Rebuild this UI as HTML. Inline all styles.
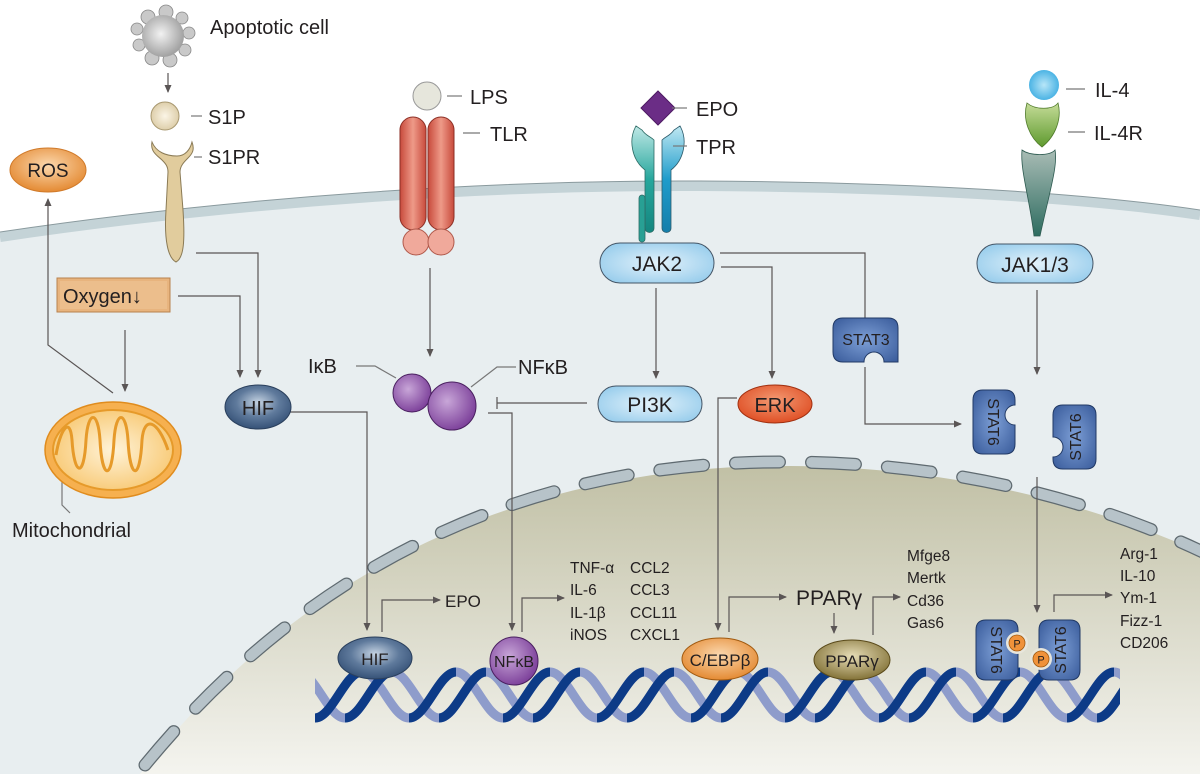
<!DOCTYPE html>
<html><head><meta charset="utf-8"><style>
html,body{margin:0;padding:0;background:#fff}
svg{display:block}
text{font-family:"Liberation Sans",sans-serif;fill:#231f20}
</style></head><body>
<svg width="1200" height="774" viewBox="0 0 1200 774" xmlns="http://www.w3.org/2000/svg">
<defs>
<marker id="ah" markerWidth="8" markerHeight="8" refX="7" refY="4" orient="auto" markerUnits="userSpaceOnUse"><path d="M0,0.5 L8,4 L0,7.5 Z" fill="#5a5555"/></marker>
<linearGradient id="nuc" x1="0" y1="0" x2="0" y2="1"><stop offset="0" stop-color="#c1c0a5"/><stop offset="1" stop-color="#f4f4ef"/></linearGradient>
<radialGradient id="gGray" cx="0.45" cy="0.45" r="0.6"><stop offset="0" stop-color="#f2f2f2"/><stop offset="1" stop-color="#9a9a9a"/></radialGradient>
<radialGradient id="gBeige" cx="0.5" cy="0.5" r="0.6"><stop offset="0" stop-color="#fbf5e6"/><stop offset="1" stop-color="#d8c79f"/></radialGradient>
<radialGradient id="gOr" cx="0.5" cy="0.4" r="0.6"><stop offset="0" stop-color="#fbd8ae"/><stop offset="1" stop-color="#e48a33"/></radialGradient>
<radialGradient id="gHif" cx="0.5" cy="0.4" r="0.65"><stop offset="0" stop-color="#c5d3e2"/><stop offset="0.5" stop-color="#5f7a9c"/><stop offset="1" stop-color="#2e4a70"/></radialGradient>
<radialGradient id="gPur" cx="0.4" cy="0.4" r="0.65"><stop offset="0" stop-color="#c8a6d8"/><stop offset="1" stop-color="#7a3d98"/></radialGradient>
<radialGradient id="gPill" cx="0.5" cy="0.5" r="0.6"><stop offset="0" stop-color="#e3f2fb"/><stop offset="1" stop-color="#98cdec"/></radialGradient>
<radialGradient id="gErk" cx="0.5" cy="0.4" r="0.6"><stop offset="0" stop-color="#f39a73"/><stop offset="1" stop-color="#df4f25"/></radialGradient>
<radialGradient id="gPpar" cx="0.5" cy="0.4" r="0.65"><stop offset="0" stop-color="#e6dcb6"/><stop offset="1" stop-color="#7b6a2e"/></radialGradient>
<radialGradient id="gStat" cx="0.5" cy="0.5" r="0.65"><stop offset="0" stop-color="#7d9fd6"/><stop offset="1" stop-color="#3d5f9e"/></radialGradient>
<linearGradient id="gTlr" x1="0" x2="1"><stop offset="0" stop-color="#c84a3c"/><stop offset="0.5" stop-color="#ee9a88"/><stop offset="1" stop-color="#c84a3c"/></linearGradient>
<radialGradient id="gIl4" cx="0.5" cy="0.5" r="0.6"><stop offset="0" stop-color="#b8e6f8"/><stop offset="1" stop-color="#35a9e0"/></radialGradient>
<linearGradient id="gIl4r" x1="0" y1="0" x2="0" y2="1"><stop offset="0" stop-color="#c5dc98"/><stop offset="1" stop-color="#5e9a2e"/></linearGradient>
<linearGradient id="gStalk" x1="0" y1="0" x2="0" y2="1"><stop offset="0" stop-color="#a9bcb5"/><stop offset="1" stop-color="#2d6c60"/></linearGradient>
<linearGradient id="gTpr" x1="0" y1="0" x2="0" y2="1"><stop offset="0" stop-color="#bfe8e6"/><stop offset="0.5" stop-color="#27a79d"/><stop offset="1" stop-color="#14867f"/></linearGradient>
<linearGradient id="gTpr2" x1="0" y1="0" x2="0" y2="1"><stop offset="0" stop-color="#bfe8f2"/><stop offset="0.5" stop-color="#1f9ccb"/><stop offset="1" stop-color="#157eaa"/></linearGradient>
<radialGradient id="gMito" cx="0.5" cy="0.5" r="0.6"><stop offset="0" stop-color="#fff3d8"/><stop offset="1" stop-color="#f7c56b"/></radialGradient>
<pattern id="dnaPat" patternUnits="userSpaceOnUse" x="315" y="0" width="94" height="774">
 <g fill="none" stroke-width="9">
  <g id="lightA" stroke="#8e9ccb"><path d="M-94,718 C-77,718 -64,672 -47,672 C-30,672 -17,718 0,718 C17,718 30,672 47,672 C64,672 77,718 94,718 C111,718 124,672 141,672 C158,672 171,718 188,718"/></g>
  <g transform="translate(30,0)" stroke="#8e9ccb"><path d="M-94,718 C-77,718 -64,672 -47,672 C-30,672 -17,718 0,718 C17,718 30,672 47,672 C64,672 77,718 94,718 C111,718 124,672 141,672 C158,672 171,718 188,718"/></g>
  <g stroke="#0d3b87"><path d="M-94,718 C-77,718 -64,672 -47,672 M0,718 C17,718 30,672 47,672 M94,718 C111,718 124,672 141,672"/></g>
  <g transform="translate(30,0)" stroke="#0d3b87"><path d="M-94,718 C-77,718 -64,672 -47,672 M0,718 C17,718 30,672 47,672 M94,718 C111,718 124,672 141,672"/></g>
 </g>
</pattern>
</defs>

<!-- cell -->
<path d="M0,232 C250,195 500,180 700,181 C900,182 1080,192 1200,210 L1200,774 L0,774 Z" fill="#e8eef0"/>
<path d="M0,232 C250,195 500,180 700,181 C900,182 1080,192 1200,210" fill="none" stroke="#c4d3d7" stroke-width="10" transform="translate(0,5)"/>
<path d="M0,232 C250,195 500,180 700,181 C900,182 1080,192 1200,210" fill="none" stroke="#8a9a9e" stroke-width="1"/>

<!-- nucleus -->
<path d="M140,774 C320,545 560,464 790,466 C960,467 1100,508 1200,552 L1200,774 Z" fill="url(#nuc)"/>
<path d="M145,765 C330,540 560,460 790,462 C960,463 1100,503 1205,553" fill="none" stroke="#5f6a70" stroke-width="13" stroke-linecap="round" stroke-dasharray="44 32"/>
<path d="M145,765 C330,540 560,460 790,462 C960,463 1100,503 1205,553" fill="none" stroke="#b7c3c9" stroke-width="10.5" stroke-linecap="round" stroke-dasharray="44 32"/>

<!-- DNA -->
<rect x="315" y="664" width="805" height="62" fill="url(#dnaPat)"/>

<!-- top ligands -->
<g>
 <g fill="#c9c9c9" stroke="#888" stroke-width="0.8">
  <circle cx="148" cy="17" r="7"/><circle cx="166" cy="12" r="7"/><circle cx="182" cy="18" r="6"/><circle cx="189" cy="33" r="6"/><circle cx="185" cy="50" r="6"/><circle cx="170" cy="60" r="7"/><circle cx="152" cy="58" r="7"/><circle cx="139" cy="45" r="6"/><circle cx="137" cy="29" r="6"/>
 </g>
 <circle cx="163" cy="36" r="21" fill="url(#gGray)"/>
 <text x="210" y="34" font-size="20">Apoptotic cell</text>
 <line x1="168" y1="73" x2="168" y2="92" stroke="#5a5555" stroke-width="1.2" marker-end="url(#ah)"/>
 <circle cx="165" cy="116" r="14" fill="url(#gBeige)" stroke="#a89870" stroke-width="1"/>
 <line x1="191" y1="116" x2="202" y2="116" stroke="#777" stroke-width="1.2"/>
 <text x="208" y="124" font-size="20">S1P</text>
 <path d="M152,142 C150,152 158,156 162,160 C165,163 168,166 168,172 L166,210 C164,240 168,258 176,262 C184,258 185,240 183,210 L180,172 C180,166 184,162 188,158 C192,154 195,150 192,142 C190,150 185,156 177,156 C166,156 156,152 152,142 Z" fill="#e1cc9d" stroke="#8a7a55" stroke-width="1"/>
 <line x1="194" y1="157" x2="202" y2="157" stroke="#777" stroke-width="1.2"/>
 <text x="208" y="164" font-size="20">S1PR</text>

 <ellipse cx="48" cy="170" rx="38" ry="22" fill="url(#gOr)" stroke="#d07a2a" stroke-width="1"/>
 <text x="48" y="177" font-size="19" text-anchor="middle">ROS</text>

 <circle cx="427" cy="96" r="14" fill="#e6e6dc" stroke="#999" stroke-width="1"/>
 <line x1="447" y1="96" x2="462" y2="96" stroke="#777" stroke-width="1.2"/>
 <text x="470" y="104" font-size="20">LPS</text>
 <rect x="400" y="117" width="26" height="113" rx="13" fill="url(#gTlr)" stroke="#8c2f25" stroke-width="1"/>
 <rect x="428" y="117" width="26" height="113" rx="13" fill="url(#gTlr)" stroke="#8c2f25" stroke-width="1"/>
 <circle cx="416" cy="242" r="13" fill="#f0a99b" stroke="#b0584a" stroke-width="1"/>
 <circle cx="441" cy="242" r="13" fill="#f0a99b" stroke="#b0584a" stroke-width="1"/>
 <line x1="463" y1="133" x2="480" y2="133" stroke="#777" stroke-width="1.2"/>
 <text x="490" y="141" font-size="20">TLR</text>

 <path d="M658,91 L675,108 L658,125 L641,108 Z" fill="#6b2d86" stroke="#4d1a63" stroke-width="1"/>
 <line x1="672" y1="108" x2="687" y2="108" stroke="#777" stroke-width="1.2"/>
 <text x="696" y="116" font-size="20">EPO</text>
 <path d="M636,126 C628,140 632,160 645,170 L645,228 C645,234 654,234 654,228 L654,140 C650,136 646,136 642,130 Z" fill="url(#gTpr)" stroke="#2d6c66" stroke-width="0.8"/>
 <path d="M680,126 C688,140 684,160 671,170 L671,228 C671,234 662,234 662,228 L662,140 C666,136 670,136 674,130 Z" fill="url(#gTpr2)" stroke="#2d5c6c" stroke-width="0.8"/>
 <rect x="639" y="195" width="6" height="47" rx="3" fill="#28a094" stroke="#2d6c66" stroke-width="0.8"/>
 <line x1="673" y1="146" x2="687" y2="146" stroke="#777" stroke-width="1.2"/>
 <text x="696" y="154" font-size="20">TPR</text>

 <circle cx="1044" cy="85" r="15" fill="url(#gIl4)"/>
 <line x1="1066" y1="89" x2="1085" y2="89" stroke="#777" stroke-width="1.2"/>
 <text x="1095" y="97" font-size="20">IL-4</text>
 <path d="M1027,103 C1035,110 1053,110 1058,103 C1062,118 1056,136 1042,147 C1030,138 1022,120 1027,103 Z" fill="url(#gIl4r)" stroke="#4f7a2a" stroke-width="0.8"/>
 <line x1="1068" y1="132" x2="1085" y2="132" stroke="#777" stroke-width="1.2"/>
 <text x="1094" y="140" font-size="20">IL-4R</text>
 <path d="M1022,150 C1030,156 1050,156 1055,150 C1058,165 1050,190 1040,236 C1036,236 1035,236 1034,236 C1030,200 1020,170 1022,150 Z" fill="url(#gStalk)" stroke="#2d5a50" stroke-width="0.8"/>
</g>

<rect x="57" y="278" width="113" height="34" fill="#e8b47e" stroke="#b9824e" stroke-width="1"/>
<rect x="60" y="281" width="107" height="28" fill="#f0c89a" opacity="0.5"/>
<text x="63" y="303" font-size="20">Oxygen↓</text>

<g fill="none" stroke="#5a5555" stroke-width="1.2">
 <polyline points="196,253 258,253 258,377" marker-end="url(#ah)"/>
 <polyline points="178,296 240,296 240,377" marker-end="url(#ah)"/>
 <line x1="125" y1="330" x2="125" y2="391" marker-end="url(#ah)"/>
 <polyline points="113,393 48,345 48,199" marker-end="url(#ah)"/>
 <line x1="430" y1="268" x2="430" y2="356" marker-end="url(#ah)"/>
 <polyline points="265,412 367,412 367,630" marker-end="url(#ah)"/>
 <polyline points="488,413 512,413 512,630" marker-end="url(#ah)"/>
 <polyline points="587,403 497,403"/>
 <line x1="497" y1="397" x2="497" y2="409"/>
 <polyline points="720,253 865,253 865,318"/>
 <polyline points="721,267 772,267 772,378" marker-end="url(#ah)"/>
 <line x1="656" y1="288" x2="656" y2="378" marker-end="url(#ah)"/>
 <line x1="1037" y1="290" x2="1037" y2="374" marker-end="url(#ah)"/>
 <polyline points="865,367 865,424 961,424" marker-end="url(#ah)"/>
 <polyline points="737,398 718,398 718,630" marker-end="url(#ah)"/>
 <line x1="1037" y1="477" x2="1037" y2="612" marker-end="url(#ah)"/>
 <polyline points="382,632 382,600 440,600" marker-end="url(#ah)"/>
 <polyline points="522,632 522,598 564,598" marker-end="url(#ah)"/>
 <polyline points="729,632 729,597 786,597" marker-end="url(#ah)"/>
 <line x1="834" y1="613" x2="834" y2="633" marker-end="url(#ah)"/>
 <polyline points="873,635 873,597 900,597" marker-end="url(#ah)"/>
 <polyline points="1054,612 1054,595 1112,595" marker-end="url(#ah)"/>
 <polyline points="356,366 375,366 396,378" stroke="#777"/>
 <polyline points="471,387 497,367 516,367" stroke="#777"/>
 <polyline points="62,480 62,505 70,513" stroke="#777"/>
</g>

<ellipse cx="113" cy="450" rx="68" ry="48" fill="#f6b04f" stroke="#e08c1e" stroke-width="1.5"/>
<ellipse cx="113" cy="450" rx="60" ry="40" fill="url(#gMito)" stroke="#e69a2a" stroke-width="2"/>
<path d="M56,455 C60,430 70,415 72,440 C74,475 84,480 86,440 C88,410 98,410 100,440 C102,480 112,482 114,440 C116,410 126,410 128,440 C130,480 140,482 142,440 C144,415 158,420 168,450" fill="none" stroke="#e69a2a" stroke-width="3"/>
<text x="12" y="537" font-size="20">Mitochondrial</text>

<ellipse cx="258" cy="407" rx="33" ry="22" fill="url(#gHif)" stroke="#2a3f5c" stroke-width="1"/>
<text x="258" y="415" font-size="20" text-anchor="middle">HIF</text>

<circle cx="412" cy="393" r="19" fill="url(#gPur)" stroke="#4a2060" stroke-width="1"/>
<circle cx="452" cy="406" r="24" fill="url(#gPur)" stroke="#4a2060" stroke-width="1"/>
<text x="308" y="373" font-size="20">IκB</text>
<text x="518" y="374" font-size="20">NFκB</text>

<rect x="600" y="243" width="114" height="40" rx="20" fill="url(#gPill)" stroke="#456" stroke-width="1"/>
<text x="657" y="271" font-size="21" text-anchor="middle">JAK2</text>
<rect x="977" y="244" width="116" height="39" rx="19.5" fill="url(#gPill)" stroke="#456" stroke-width="1"/>
<text x="1035" y="272" font-size="21" text-anchor="middle">JAK1/3</text>
<rect x="598" y="386" width="104" height="36" rx="18" fill="url(#gPill)" stroke="#456" stroke-width="1"/>
<text x="650" y="412" font-size="21" text-anchor="middle">PI3K</text>
<ellipse cx="775" cy="404" rx="37" ry="19" fill="url(#gErk)" stroke="#a03010" stroke-width="1"/>
<text x="775" y="412" font-size="20" text-anchor="middle">ERK</text>

<path d="M843,318 L888,318 Q898,318 898,328 L898,362 L884,362 A10,10 0 0 0 864,362 L843,362 Q833,362 833,352 L833,328 Q833,318 843,318 Z" fill="url(#gStat)" stroke="#223a66" stroke-width="1"/>
<text x="866" y="345" font-size="16" text-anchor="middle">STAT3</text>
<path d="M983,390 L1005,390 Q1015,390 1015,400 L1015,405 A10,10 0 0 0 1015,425 L1015,444 Q1015,454 1005,454 L983,454 Q973,454 973,444 L973,400 Q973,390 983,390 Z" fill="url(#gStat)" stroke="#223a66" stroke-width="1"/>
<text transform="translate(988,422) rotate(90)" font-size="16" text-anchor="middle">STAT6</text>
<path d="M1063,405 L1086,405 Q1096,405 1096,415 L1096,459 Q1096,469 1086,469 L1063,469 Q1053,469 1053,459 L1053,457 A10,10 0 0 0 1053,437 L1053,415 Q1053,405 1063,405 Z" fill="url(#gStat)" stroke="#223a66" stroke-width="1"/>
<text transform="translate(1081,437) rotate(-90)" font-size="16" text-anchor="middle">STAT6</text>

<text x="445" y="607" font-size="17">EPO</text>
<g font-size="15.5">
<text x="570" y="573">TNF-α</text><text x="570" y="595">IL-6</text><text x="570" y="618">IL-1β</text><text x="570" y="640">iNOS</text>
<text x="630" y="573">CCL2</text><text x="630" y="595">CCL3</text><text x="630" y="618">CCL11</text><text x="630" y="640">CXCL1</text>
<text x="907" y="561">Mfge8</text><text x="907" y="583">Mertk</text><text x="907" y="606">Cd36</text><text x="907" y="628">Gas6</text>
<text x="1120" y="559">Arg-1</text><text x="1120" y="581">IL-10</text><text x="1120" y="603">Ym-1</text><text x="1120" y="626">Fizz-1</text><text x="1120" y="648">CD206</text>
</g>
<text x="796" y="605" font-size="21">PPARγ</text>

<ellipse cx="375" cy="658" rx="37" ry="21" fill="url(#gHif)" stroke="#2a3f5c" stroke-width="1"/>
<text x="375" y="665" font-size="17" text-anchor="middle">HIF</text>
<circle cx="514" cy="661" r="24" fill="url(#gPur)" stroke="#4a2060" stroke-width="1"/>
<text x="514" y="667" font-size="16" text-anchor="middle">NFκB</text>
<ellipse cx="720" cy="659" rx="38" ry="21" fill="url(#gOr)" stroke="#a05a10" stroke-width="1"/>
<text x="720" y="666" font-size="17" text-anchor="middle">C/EBPβ</text>
<ellipse cx="852" cy="660" rx="38" ry="20" fill="url(#gPpar)" stroke="#5a4a1a" stroke-width="1"/>
<text x="852" y="667" font-size="17" text-anchor="middle">PPARγ</text>
<path d="M986,620 L1008,620 Q1018,620 1018,630 L1018,670 Q1018,680 1008,680 L986,680 Q976,680 976,670 L976,630 Q976,620 986,620 Z" fill="url(#gStat)" stroke="#223a66" stroke-width="1"/>
<text transform="translate(991,650) rotate(90)" font-size="16" text-anchor="middle">STAT6</text>
<path d="M1049,620 L1070,620 Q1080,620 1080,630 L1080,670 Q1080,680 1070,680 L1049,680 Q1039,680 1039,670 L1039,630 Q1039,620 1049,620 Z" fill="url(#gStat)" stroke="#223a66" stroke-width="1"/>
<text transform="translate(1066,650) rotate(-90)" font-size="16" text-anchor="middle">STAT6</text>
<circle cx="1017" cy="643" r="11" fill="#e8e6dc"/>
<circle cx="1017" cy="643" r="8" fill="#f0923a" stroke="#a05a10" stroke-width="0.8"/>
<text x="1017" y="647.5" font-size="11" text-anchor="middle">P</text>
<circle cx="1041" cy="659" r="11" fill="#e8e6dc"/>
<circle cx="1041" cy="659" r="8" fill="#f0923a" stroke="#a05a10" stroke-width="0.8"/>
<text x="1041" y="663.5" font-size="11" text-anchor="middle">P</text>
</svg>
</body></html>
